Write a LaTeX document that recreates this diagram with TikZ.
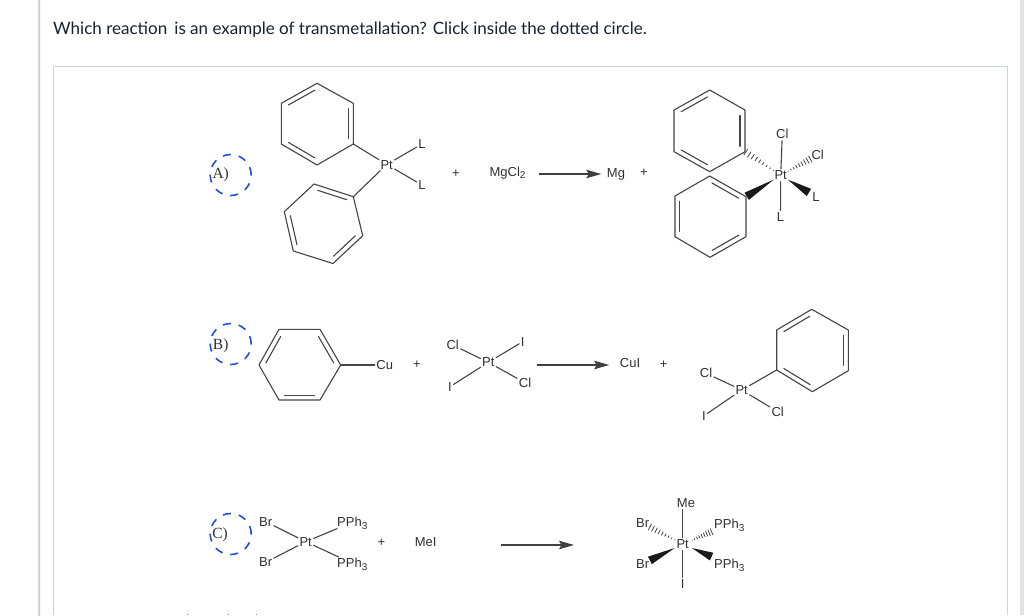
\documentclass[tikz,border=0pt]{standalone}
\usepackage{fontspec}
\setmainfont{Liberation Sans}
\newfontfamily\questionfont{Lato}
\newfontfamily\letterfont{Liberation Serif}
\usetikzlibrary{calc,arrows.meta}
\definecolor{bondgray}{HTML}{454545}
\definecolor{atomgray}{HTML}{303030}
\definecolor{framegray}{HTML}{D0D4D8}
\definecolor{pickblue}{HTML}{1F4FE0}
\definecolor{questioncolor}{HTML}{16222E}
\newcommand{\sub}[1]{\raisebox{-2.5pt}{\fontsize{10}{10}\selectfont #1}}
\tikzset{
	atom/.style={inner sep=1.5pt,text=atomgray,font=\fontsize{13}{13}\selectfont,text height=9.3pt,text depth=0pt},
	bond/.style={draw=bondgray,line width=1.1pt,line cap=round},
	rxn/.style={draw=black!75,line width=1.1pt,-{Stealth[length=15pt,width=8.5pt,inset=2.5pt]}},
	pick/.style={circle,draw=pickblue,line width=1.6pt,dash pattern=on 8pt off 8pt,minimum size=41pt,inner sep=0pt},
	letter/.style={inner sep=0pt,text=atomgray,font=\letterfont\fontsize{15.5}{15.5}\selectfont}
}
% six corners, the edges 1-2, 3-4 and 5-6 carry the inner line
\newcommand{\benzene}[7]{
	\coordinate (#11) at #2;
	\coordinate (#12) at #3;
	\coordinate (#13) at #4;
	\coordinate (#14) at #5;
	\coordinate (#15) at #6;
	\coordinate (#16) at #7;
	\coordinate (#1c) at ($(#11)!.5!(#14)$);
	\draw[bond,line join=round] (#11) -- (#12) -- (#13) -- (#14) -- (#15) -- (#16) -- cycle;
	\draw[bond] ($(#11)!.07!(#12)!.14!(#1c)$) -- ($(#11)!.93!(#12)!.14!(#1c)$);
	\draw[bond] ($(#13)!.07!(#14)!.14!(#1c)$) -- ($(#13)!.93!(#14)!.14!(#1c)$);
	\draw[bond] ($(#15)!.07!(#16)!.14!(#1c)$) -- ($(#15)!.93!(#16)!.14!(#1c)$);
}
\newcommand{\hashbond}[3]{
	\foreach \i in {0,...,8}{
		\pgfmathsetmacro{\t}{.2+(#3-.2)*\i/8}
		\pgfmathsetmacro{\w}{.4+3.2*\i/8}
		\draw[draw=bondgray,line width=0.8pt] ($(#1)!\t!(#2)!\w pt!90:(#2)$) -- ($(#1)!\t!(#2)!\w pt!-90:(#2)$);
	}
}
\newcommand{\wedgebond}[3]{
	\fill[black!90] ($(#1)!.2!(#2)$) -- ($(#1)!#3!(#2)!4.2pt!90:(#2)$) -- ($(#1)!#3!(#2)!4.2pt!-90:(#2)$) -- cycle;
}
\begin{document}
\begin{tikzpicture}[x=1pt,y=-1pt]
	\useasboundingbox (0,0) rectangle (1024,615);
	\fill[white] (0,0) rectangle (1024,615);
	\shade[left color=white,right color=black!28] (36.5,0) rectangle (40,615);
	\fill[black!11] (1020,0) rectangle (1024,615);
	\draw[framegray,line width=1pt] (53.5,615) -- (53.5,66.5) -- (1007.5,66.5) -- (1007.5,615);
	\node[anchor=west,inner sep=0pt,text=questioncolor,font=\questionfont\fontsize{17}{17}\selectfont] (question) at (53,30) {Which reaction\, is an example of transmetallation? Click inside the dotted circle.};
	\foreach \x in {187.5,228.5,256.5}
		\draw[black!45,line width=.8pt] (\x,613.5) -- (\x,615);

	% reaction A
	\node[pick] (pickA) at (230.7,175) {};
	\node[letter] (letterA) at (220.7,174.5) {A)};
	\benzene{ringAa}{(281.3,103.3)}{(317,83.3)}{(353.3,103.3)}{(353.3,144)}{(317,165)}{(281.3,144)}
	\benzene{ringAb}{(314,184)}{(353.3,196.7)}{(362.7,235.7)}{(333,263.5)}{(293.3,251)}{(284.3,211.7)}
	\node[atom] (ptA) at (386.7,164.5) {Pt};
	\node[atom] (lAa) at (422,144) {L};
	\node[atom] (lAb) at (422,185) {L};
	\draw[bond] (ringAa4) -- (ptA);
	\draw[bond] (ringAb2) -- (ptA);
	\draw[bond] (ptA) -- (lAa);
	\draw[bond] (ptA) -- (lAb);
	\node[atom] (plusAa) at (456,173) {+};
	\node[atom] (mgclA) at (507.5,171.5) {MgCl\sub{2}};
	\node[atom] (mgA) at (616,172.5) {Mg};
	\draw[rxn,shorten <=12pt,shorten >=4pt] ([yshift=-2.5pt]mgclA.east) -- ([yshift=-1.5pt]mgA.west);
	\node[atom] (plusAb) at (644,172) {+};
	\benzene{ringAc}{(674,110)}{(709.7,90)}{(745,110)}{(745,151.7)}{(709.7,171.7)}{(674,151.7)}
	\benzene{ringAd}{(709.7,176)}{(746,196.7)}{(746,236.7)}{(710,257.3)}{(675,236.7)}{(675,196)}
	\node[atom] (ptAp) at (780.7,175.3) {Pt};
	\node[atom] (clAa) at (782.3,134.3) {Cl};
	\node[atom] (clAb) at (817.7,155) {Cl};
	\node[atom] (lAc) at (780.5,216.7) {L};
	\node[atom] (lAd) at (816,196.7) {L};
	\draw[bond] (ptAp) -- (clAa);
	\draw[bond] (ptAp) -- (lAc);
	\hashbond{ptAp}{clAb}{.8}
	\wedgebond{ptAp}{lAd}{.8}
	\hashbond{ptAp}{ringAc4}{.98}
	\wedgebond{ptAp}{ringAd2}{.98}

	% reaction B
	\node[pick] (pickB) at (230.7,344) {};
	\node[letter] (letterB) at (220.7,345.5) {B)};
	\benzene{ringBa}{(259,365)}{(279,329.3)}{(320,329.3)}{(340.7,365)}{(320,400)}{(279,400)}
	\node[atom] (cuB) at (384.7,365) {Cu};
	\draw[bond] (ringBa4) -- (cuB);
	\node[atom] (plusBa) at (417,364.3) {+};
	\node[atom] (ptB) at (488.3,362.3) {Pt};
	\node[atom] (clBa) at (452.7,345) {Cl};
	\node[atom] (iBa) at (522.7,341.7) {I};
	\node[atom] (iBb) at (450,386.7) {I};
	\node[atom] (clBb) at (525,382.7) {Cl};
	\draw[bond] (ptB) -- (clBa);
	\draw[bond] (ptB) -- (iBa);
	\draw[bond] (ptB) -- (iBb);
	\draw[bond] (ptB) -- (clBb);
	\coordinate (arrowB) at (537,365);
	\node[atom] (cuiB) at (630,363.3) {CuI};
	\draw[rxn,shorten >=9pt] (arrowB) -- (arrowB -| cuiB.west);
	\node[atom] (plusBb) at (663.7,364) {+};
	\benzene{ringBb}{(776.7,330)}{(811.7,309.3)}{(848.3,330)}{(848.3,370.7)}{(812.3,391.7)}{(776.7,370)}
	\node[atom] (ptBp) at (741.7,390) {Pt};
	\node[atom] (clBc) at (706,373.3) {Cl};
	\node[atom] (iBc) at (704,415.7) {I};
	\node[atom] (clBd) at (777.7,411.7) {Cl};
	\draw[bond] (ringBb6) -- (ptBp);
	\draw[bond] (ptBp) -- (clBc);
	\draw[bond] (ptBp) -- (iBc);
	\draw[bond] (ptBp) -- (clBd);

	% reaction C
	\node[pick] (pickC) at (230.7,534) {};
	\node[letter] (letterC) at (220,534.5) {C)};
	\node[atom] (ptC) at (305.7,541.7) {Pt};
	\node[atom] (brCa) at (265.7,521.7) {Br};
	\node[atom] (brCb) at (265.7,562.3) {Br};
	\node[atom] (phCa) at (352.3,522.3) {PPh\sub{3}};
	\node[atom] (phCb) at (352.3,563.3) {PPh\sub{3}};
	\draw[bond] (ptC) -- (brCa);
	\draw[bond] (ptC) -- (brCb);
	\draw[bond] (ptC) -- (phCa);
	\draw[bond] (ptC) -- (phCb);
	\node[atom] (plusC) at (381.3,541.7) {+};
	\node[atom] (meiC) at (425.7,541.7) {MeI};
	\coordinate (arrowCa) at (501,545);
	\coordinate (arrowCb) at (574,545);
	\draw[rxn] (arrowCa) -- (arrowCb);
	\node[atom] (ptCp) at (682.7,544) {Pt};
	\node[atom] (meCp) at (686,503.3) {Me};
	\node[atom] (iCp) at (682.7,584) {I};
	\node[atom] (brCc) at (642.7,523.3) {Br};
	\node[atom] (brCd) at (642.7,564) {Br};
	\node[atom] (phCc) at (729.3,524.3) {PPh\sub{3}};
	\node[atom] (phCd) at (729.3,564.3) {PPh\sub{3}};
	\draw[bond] (ptCp) -- (ptCp |- meCp.south);
	\draw[bond] (ptCp) -- (iCp);
	\hashbond{ptCp}{brCc}{.82}
	\hashbond{ptCp}{phCc}{.62}
	\wedgebond{ptCp}{brCd}{.82}
	\wedgebond{ptCp}{phCd}{.62}
\end{tikzpicture}
\end{document}
